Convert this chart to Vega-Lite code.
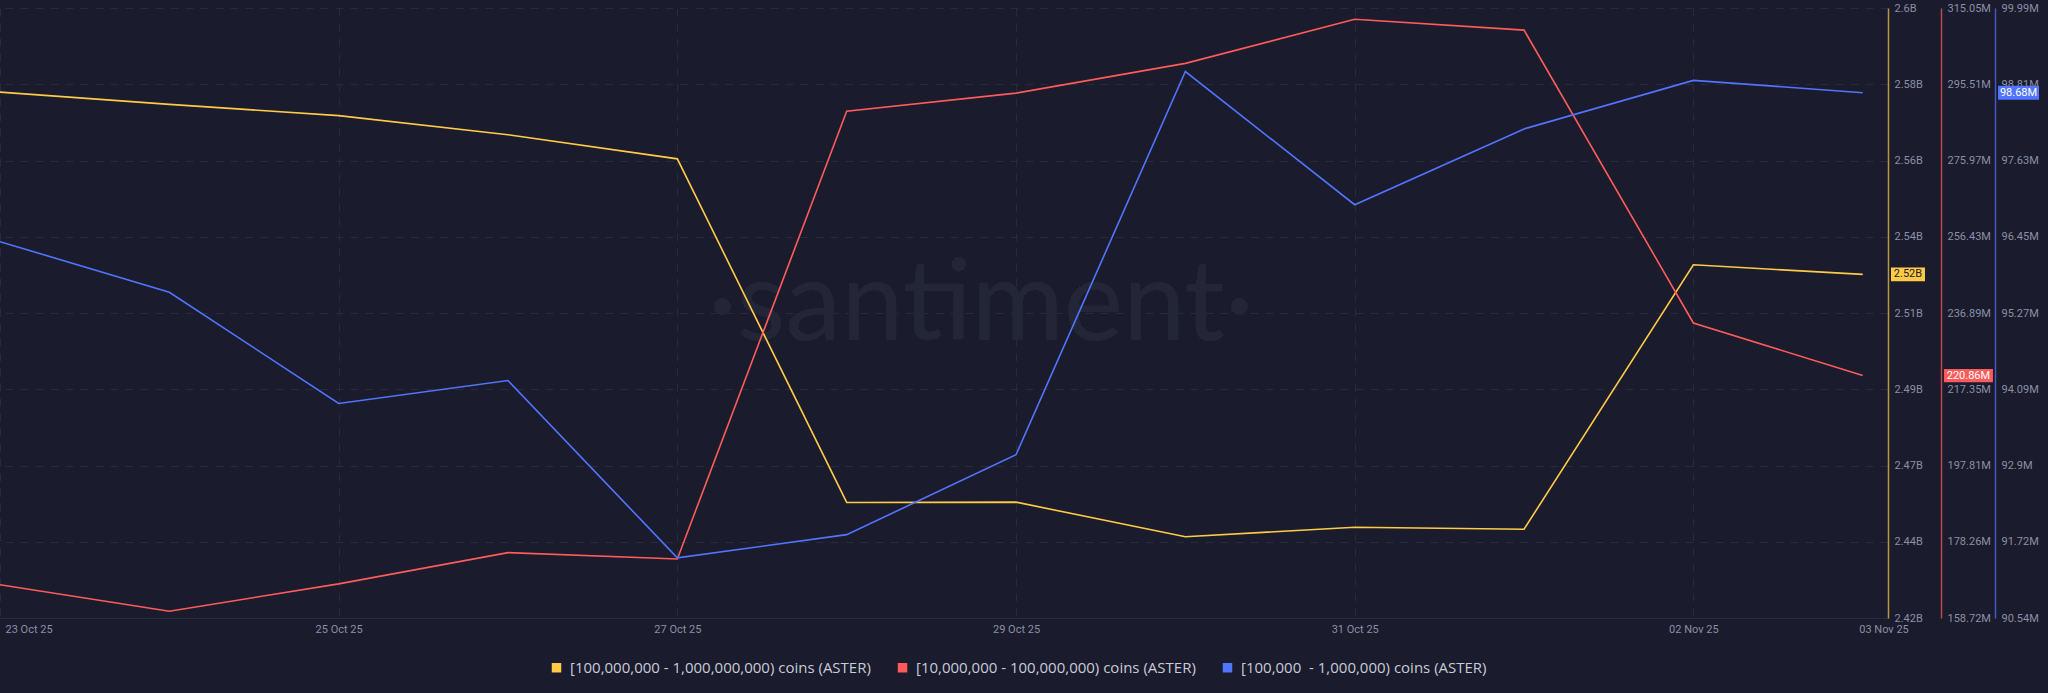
{
  "$schema": "https://vega.github.io/schema/vega-lite/v6.json",
  "width": 1888,
  "height": 610,
  "autosize": {"type": "none"},
  "padding": {"left": 0, "top": 8, "right": 160, "bottom": 75},
  "background": "#1a1b2c",
  "config": {
    "view": {"stroke": null},
    "font": "Roboto",
    "axis": {"labelFont": "Roboto", "labelColor": "#8a90a6", "labelFontSize": 11},
    "legend": {"labelFont": "Open Sans"}
  },
  "data": {
    "format": {"parse": {"date": "utc:'%Y-%m-%d'"}},
    "values": [
      {"date": "2025-10-23", "gold": 2579100000, "red": 167260000, "blue": 96372000},
      {"date": "2025-10-24", "gold": 2575400000, "red": 160470000, "blue": 95588000},
      {"date": "2025-10-25", "gold": 2572000000, "red": 167460000, "blue": 93866000},
      {"date": "2025-10-26", "gold": 2566200000, "red": 175480000, "blue": 94221000},
      {"date": "2025-10-27", "gold": 2558900000, "red": 173840000, "blue": 91473000},
      {"date": "2025-10-28", "gold": 2454800000, "red": 288620000, "blue": 91833000},
      {"date": "2025-10-29", "gold": 2454900000, "red": 293240000, "blue": 93071000},
      {"date": "2025-10-30", "gold": 2444400000, "red": 300860000, "blue": 99008000},
      {"date": "2025-10-31", "gold": 2447300000, "red": 312170000, "blue": 96944000},
      {"date": "2025-11-01", "gold": 2446700000, "red": 309390000, "blue": 98119000},
      {"date": "2025-11-02", "gold": 2526800000, "red": 234320000, "blue": 98871000},
      {"date": "2025-11-03", "gold": 2523900000, "red": 220860000, "blue": 98680000}
    ]
  },
  "layer": [
    {
      "layer": [
        {
          "mark": {"type": "text", "text": "·santiment·", "font": "Lato", "fontSize": 112, "fill": "#222637", "align": "center", "baseline": "alphabetic"},
          "encoding": {
            "x": {"datum": {"year": 2025, "month": 10, "date": 28, "hours": 19, "minutes": 0, "utc": true}, "type": "temporal",
                  "scale": {"type": "utc", "domain": [{"year": 2025, "month": 10, "date": 23, "utc": true}, {"year": 2025, "month": 11, "date": 3, "hours": 3, "minutes": 35, "utc": true}]}},
            "y": {"datum": 2504000000, "type": "quantitative"}
          }
        },
        {
          "mark": {"type": "line", "strokeWidth": 1.6},
          "encoding": {
            "x": {"field": "date", "type": "temporal",
                  "scale": {"type": "utc", "domain": [{"year": 2025, "month": 10, "date": 23, "utc": true}, {"year": 2025, "month": 11, "date": 3, "hours": 3, "minutes": 35, "utc": true}]},
                  "axis": {
                    "values": [
                      {"year": 2025, "month": 10, "date": 23, "utc": true},
                      {"year": 2025, "month": 10, "date": 25, "utc": true},
                      {"year": 2025, "month": 10, "date": 27, "utc": true},
                      {"year": 2025, "month": 10, "date": 29, "utc": true},
                      {"year": 2025, "month": 10, "date": 31, "utc": true},
                      {"year": 2025, "month": 11, "date": 2, "utc": true},
                      {"year": 2025, "month": 11, "date": 3, "utc": true}
                    ],
                    "format": "%d %b %y",
                    "title": null,
                    "ticks": false,
                    "domainColor": "#2a2d40",
                    "grid": true,
                    "gridDash": [8, 7],
                    "gridColor": "#282b3e",
                    "gridOpacity": {"condition": {"test": "datum.index == 1", "value": 0}, "value": 1},
                    "labelAlign": {"condition": {"test": "datum.index == 0 || datum.index == 1", "value": "left"}, "value": "center"},
                    "labelOffset": {"condition": [{"test": "datum.index == 0", "value": 5}, {"test": "datum.index == 1", "value": -4}], "value": 0},
                    "labelPadding": 5,
                    "labelOverlap": false,
                    "labelFlush": false,
                    "labelBound": false
                  }},
            "y": {"field": "gold", "type": "quantitative",
                  "scale": {"domain": [2419800000, 2604600000], "nice": false, "zero": false},
                  "axis": {
                    "orient": "right", "offset": 0, "title": null, "ticks": false,
                    "values": [2419800000, 2442900000, 2466000000, 2489100000, 2512200000, 2535300000, 2558400000, 2581500000, 2604600000],
                    "labelExpr": "format(datum.value / 1e9, '.2~f') + 'B'",
                    "domainColor": "#ffcb47", "domainOpacity": 0.7, "domainWidth": 1.5,
                    "labelPadding": 6, "labelOverlap": false, "labelBound": false, "labelFlush": false,
                    "grid": true, "gridDash": [8, 7], "gridColor": "#282b3e"
                  }},
            "color": {"datum": "[100,000,000 - 1,000,000,000) coins (ASTER)", "type": "nominal",
                      "scale": {"domain": ["[100,000,000 - 1,000,000,000) coins (ASTER)", "[10,000,000 - 100,000,000) coins (ASTER)", "[100,000\u00a0 - 1,000,000) coins (ASTER)"],
                                "range": ["#ffcb47", "#ff5b5b", "#5275ff"]},
                      "legend": {
                        "orient": "none", "legendX": 549, "legendY": 652, "direction": "horizontal",
                        "title": null, "symbolType": "square", "symbolSize": 90, "symbolStrokeWidth": 0,
                        "labelFontSize": 15, "labelColor": "#c8cbd8", "labelOffset": 6, "columnPadding": 24, "labelLimit": 600,
                        "encode": {"symbols": {"update": {"fill": {"scale": "color", "field": "value"}, "fillOpacity": {"value": 1}}}}
                      }}
          }
        },
        {
          "transform": [{"filter": "time(datum.date) == utc(2025, 10, 3)"}],
          "mark": {"type": "point", "shape": "M-1,-0.41L1,-0.41L1,0.41L-1,0.41Z", "size": 1156, "filled": true, "fill": "#ffcb47", "opacity": 1, "strokeWidth": 0},
          "encoding": {
            "x": {"datum": {"year": 2025, "month": 11, "date": 3, "hours": 6, "minutes": 25, "utc": true}, "type": "temporal",
                  "scale": {"type": "utc", "domain": [{"year": 2025, "month": 10, "date": 23, "utc": true}, {"year": 2025, "month": 11, "date": 3, "hours": 3, "minutes": 35, "utc": true}]}},
            "y": {"field": "gold", "type": "quantitative"}
          }
        },
        {
          "transform": [{"filter": "time(datum.date) == utc(2025, 10, 3)"}],
          "mark": {"type": "text", "text": "2.52B", "fill": "#1a1b2c", "fontSize": 11, "align": "center", "baseline": "middle"},
          "encoding": {
            "x": {"datum": {"year": 2025, "month": 11, "date": 3, "hours": 6, "minutes": 25, "utc": true}, "type": "temporal",
                  "scale": {"type": "utc", "domain": [{"year": 2025, "month": 10, "date": 23, "utc": true}, {"year": 2025, "month": 11, "date": 3, "hours": 3, "minutes": 35, "utc": true}]}},
            "y": {"field": "gold", "type": "quantitative"}
          }
        }
      ]
    },
    {
      "layer": [
        {
          "mark": {"type": "line", "strokeWidth": 1.6},
          "encoding": {
            "x": {"field": "date", "type": "temporal",
                  "scale": {"type": "utc", "domain": [{"year": 2025, "month": 10, "date": 23, "utc": true}, {"year": 2025, "month": 11, "date": 3, "hours": 3, "minutes": 35, "utc": true}]}},
            "y": {"field": "red", "type": "quantitative",
                  "scale": {"domain": [158722200, 315054200], "nice": false, "zero": false},
                  "axis": {
                    "orient": "right", "offset": 53, "title": null, "ticks": false,
                    "values": [158722200, 178263700, 197805200, 217346700, 236888200, 256429700, 275971200, 295512700, 315054200],
                    "labelExpr": "format(datum.value / 1e6, '.2~f') + 'M'",
                    "domainColor": "#ff5b5b", "domainOpacity": 0.7, "domainWidth": 1.5,
                    "labelPadding": 6, "labelOverlap": false, "labelBound": false, "labelFlush": false,
                    "grid": false
                  }},
            "color": {"datum": "[10,000,000 - 100,000,000) coins (ASTER)", "type": "nominal"}
          }
        },
        {
          "transform": [{"filter": "time(datum.date) == utc(2025, 10, 3)"}],
          "mark": {"type": "point", "shape": "M-1,-0.27L1,-0.27L1,0.27L-1,0.27Z", "size": 2401, "filled": true, "fill": "#ff5b5b", "opacity": 1, "strokeWidth": 0},
          "encoding": {
            "x": {"datum": {"year": 2025, "month": 11, "date": 3, "hours": 14, "minutes": 59, "utc": true}, "type": "temporal",
                  "scale": {"type": "utc", "domain": [{"year": 2025, "month": 10, "date": 23, "utc": true}, {"year": 2025, "month": 11, "date": 3, "hours": 3, "minutes": 35, "utc": true}]}},
            "y": {"field": "red", "type": "quantitative"}
          }
        },
        {
          "transform": [{"filter": "time(datum.date) == utc(2025, 10, 3)"}],
          "mark": {"type": "text", "text": "220.86M", "fill": "#ffffff", "fontSize": 11, "align": "center", "baseline": "middle"},
          "encoding": {
            "x": {"datum": {"year": 2025, "month": 11, "date": 3, "hours": 14, "minutes": 59, "utc": true}, "type": "temporal",
                  "scale": {"type": "utc", "domain": [{"year": 2025, "month": 10, "date": 23, "utc": true}, {"year": 2025, "month": 11, "date": 3, "hours": 3, "minutes": 35, "utc": true}]}},
            "y": {"field": "red", "type": "quantitative"}
          }
        }
      ]
    },
    {
      "layer": [
        {
          "mark": {"type": "line", "strokeWidth": 1.6},
          "encoding": {
            "x": {"field": "date", "type": "temporal",
                  "scale": {"type": "utc", "domain": [{"year": 2025, "month": 10, "date": 23, "utc": true}, {"year": 2025, "month": 11, "date": 3, "hours": 3, "minutes": 35, "utc": true}]}},
            "y": {"field": "blue", "type": "quantitative",
                  "scale": {"domain": [90542000, 99992000], "nice": false, "zero": false},
                  "axis": {
                    "orient": "right", "offset": 107, "title": null, "ticks": false,
                    "values": [90542000, 91723250, 92904500, 94085750, 95267000, 96448250, 97629500, 98810750, 99992000],
                    "labelExpr": "format(datum.value / 1e6, '.2~f') + 'M'",
                    "domainColor": "#5275ff", "domainOpacity": 0.7, "domainWidth": 1.5,
                    "labelPadding": 6, "labelOverlap": false, "labelBound": false, "labelFlush": false,
                    "grid": false
                  }},
            "color": {"datum": "[100,000\u00a0 - 1,000,000) coins (ASTER)", "type": "nominal"}
          }
        },
        {
          "transform": [{"filter": "time(datum.date) == utc(2025, 10, 3)"}],
          "mark": {"type": "point", "shape": "M-1,-0.34L1,-0.34L1,0.34L-1,0.34Z", "size": 1681, "filled": true, "fill": "#5275ff", "opacity": 1, "strokeWidth": 0},
          "encoding": {
            "x": {"datum": {"year": 2025, "month": 11, "date": 3, "hours": 22, "minutes": 5, "utc": true}, "type": "temporal",
                  "scale": {"type": "utc", "domain": [{"year": 2025, "month": 10, "date": 23, "utc": true}, {"year": 2025, "month": 11, "date": 3, "hours": 3, "minutes": 35, "utc": true}]}},
            "y": {"field": "blue", "type": "quantitative"}
          }
        },
        {
          "transform": [{"filter": "time(datum.date) == utc(2025, 10, 3)"}],
          "mark": {"type": "text", "text": "98.68M", "fill": "#ffffff", "fontSize": 11, "align": "center", "baseline": "middle"},
          "encoding": {
            "x": {"datum": {"year": 2025, "month": 11, "date": 3, "hours": 22, "minutes": 5, "utc": true}, "type": "temporal",
                  "scale": {"type": "utc", "domain": [{"year": 2025, "month": 10, "date": 23, "utc": true}, {"year": 2025, "month": 11, "date": 3, "hours": 3, "minutes": 35, "utc": true}]}},
            "y": {"field": "blue", "type": "quantitative"}
          }
        }
      ]
    }
  ],
  "resolve": {"scale": {"y": "independent"}}
}
